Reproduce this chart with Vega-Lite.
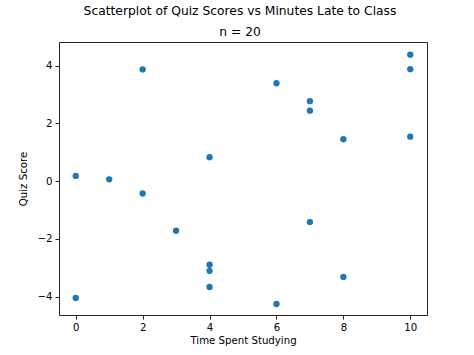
{
  "$schema": "https://vega.github.io/schema/vega-lite/v6.json",
  "width": 368,
  "height": 273,
  "autosize": {"type": "none"},
  "padding": {"left": 59, "top": 42, "right": 47, "bottom": 40},
  "background": "white",
  "title": {
    "text": "Scatterplot of Quiz Scores vs Minutes Late to Class",
    "subtitle": "n = 20",
    "anchor": "middle",
    "dx": -3,
    "font": "DejaVu Sans",
    "fontSize": 12.3,
    "fontWeight": "normal",
    "color": "black",
    "subtitleFont": "DejaVu Sans",
    "subtitleFontSize": 12.3,
    "subtitleColor": "black",
    "subtitlePadding": 8,
    "offset": 4
  },
  "config": {
    "view": {"stroke": "#222", "strokeWidth": 1},
    "axis": {
      "grid": false,
      "domain": false,
      "tickColor": "#222",
      "tickSize": 4,
      "labelFont": "DejaVu Sans",
      "labelFontSize": 10.2,
      "labelColor": "black",
      "labelPadding": 3,
      "titleFont": "DejaVu Sans",
      "titleFontSize": 10.2,
      "titleFontWeight": "normal",
      "titleColor": "black"
    }
  },
  "data": {
    "values": [
      {"time": 0, "score": 0.18},
      {"time": 0, "score": -4.05},
      {"time": 1, "score": 0.06},
      {"time": 2, "score": 3.87},
      {"time": 2, "score": -0.43},
      {"time": 3, "score": -1.72},
      {"time": 4, "score": 0.83},
      {"time": 4, "score": -2.9},
      {"time": 4, "score": -3.11},
      {"time": 4, "score": -3.67},
      {"time": 6, "score": 3.39},
      {"time": 6, "score": -4.26},
      {"time": 7, "score": 2.77},
      {"time": 7, "score": 2.44},
      {"time": 7, "score": -1.42},
      {"time": 8, "score": 1.45},
      {"time": 8, "score": -3.32},
      {"time": 10, "score": 4.38},
      {"time": 10, "score": 3.88},
      {"time": 10, "score": 1.54}
    ]
  },
  "mark": {"type": "point", "filled": true, "opacity": 1, "size": 40, "color": "#1f77b4", "shape": "circle"},
  "encoding": {
    "x": {
      "field": "time",
      "type": "quantitative",
      "title": "Time Spent Studying",
      "scale": {"domain": [-0.5, 10.5], "nice": false, "zero": false},
      "axis": {"values": [0, 2, 4, 6, 8, 10], "titlePadding": 3}
    },
    "y": {
      "field": "score",
      "type": "quantitative",
      "title": "Quiz Score",
      "scale": {"domain": [-4.64, 4.82], "nice": false, "zero": false},
      "axis": {"values": [-4, -2, 0, 2, 4], "titlePadding": 8}
    }
  }
}
